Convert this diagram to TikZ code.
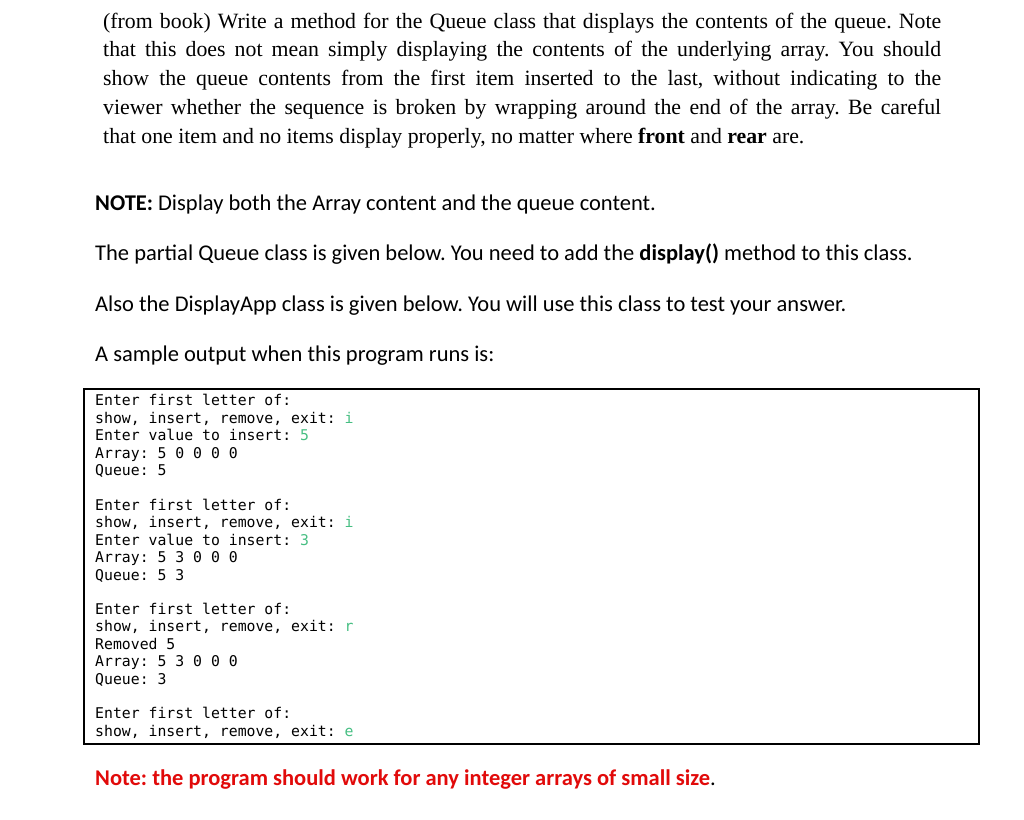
\documentclass[tikz,border=0pt]{standalone}
\usepackage{fontspec}
\setmainfont{Liberation Serif}
\newfontfamily\calfam{Carlito}
\newfontfamily\monofam{DejaVu Sans Mono}
\definecolor{inp}{RGB}{70,190,130}
\definecolor{nred}{RGB}{225,10,10}
\begin{document}
\frenchspacing
\begin{tikzpicture}[x=1pt,y=-1pt,
 cl/.style={anchor=base west,inner sep=0pt,font=\calfam\fontsize{22.5}{26}\selectfont},
 ml/.style={anchor=base west,inner sep=0pt,font=\monofam\fontsize{14.8}{17.5}\selectfont}]
\useasboundingbox (0,0) rectangle (1024,819);
\node[anchor=north west,inner sep=0pt,text width=838pt,align=justify,font=\frenchspacing\fontsize{21.8}{28.75}\selectfont] (p) at (103,12.5)
{(from book) Write a method for the Queue class that displays the contents of the queue. Note\linebreak
that this does not mean simply displaying the contents of the underlying array. You should\linebreak
show the queue contents from the first item inserted to the last, without indicating to the\linebreak
viewer whether the sequence is broken by wrapping around the end of the array. Be careful\linebreak
that one item and no items display properly, no matter where \textbf{front} and \textbf{rear} are.};
\node[cl] (n1) at (95,210) {\textbf{NOTE:} Display both the Array content and the queue content.};
\node[cl] (n2) at (95,260) {The partial Queue class is given below. You need to add the \textbf{display()} method to this class.};
\node[cl] (n3) at (95,311) {Also the DisplayApp class is given below. You will use this class to test your answer.};
\node[cl] (n4) at (95,361) {A sample output when this program runs is:};
\draw[line width=1.2pt] (84,389) rectangle (979,744);
\node[ml] at (95,405) {Enter first letter of:};
\node[ml] at (95,423) {show, insert, remove, exit: \textcolor{inp}{i}};
\node[ml] at (95,440.5) {Enter value to insert: \textcolor{inp}{5}};
\node[ml] at (95,458) {Array: 5 0 0 0 0};
\node[ml] at (95,475.5) {Queue: 5};
\node[ml] at (95,510) {Enter first letter of:};
\node[ml] at (95,527.5) {show, insert, remove, exit: \textcolor{inp}{i}};
\node[ml] at (95,545) {Enter value to insert: \textcolor{inp}{3}};
\node[ml] at (95,562.5) {Array: 5 3 0 0 0};
\node[ml] at (95,580) {Queue: 5 3};
\node[ml] at (95,614) {Enter first letter of:};
\node[ml] at (95,631.5) {show, insert, remove, exit: \textcolor{inp}{r}};
\node[ml] at (95,649) {Removed 5};
\node[ml] at (95,666.5) {Array: 5 3 0 0 0};
\node[ml] at (95,684) {Queue: 3};
\node[ml] at (95,718.5) {Enter first letter of:};
\node[ml] at (95,736) {show, insert, remove, exit: \textcolor{inp}{e}};
\node[cl] (rn) at (95,785) {\textcolor{nred}{\textbf{Note: the program should work for any integer arrays of small size}}.};
\end{tikzpicture}
\end{document}
